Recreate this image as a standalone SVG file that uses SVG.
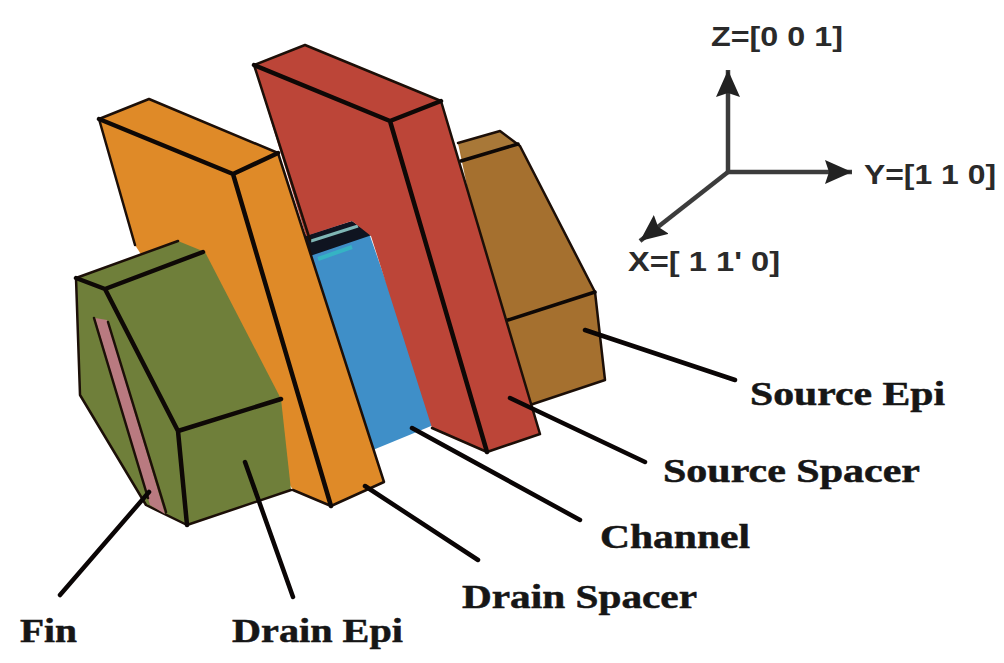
<svg xmlns="http://www.w3.org/2000/svg" width="1004" height="663" viewBox="0 0 1004 663">
<style>
.b{fill:none;stroke:#0e0806;stroke-width:4.5;stroke-linecap:round;stroke-linejoin:round}
.n{fill:none;stroke:#1c0f08;stroke-width:2.5;stroke-linecap:round;stroke-linejoin:round}
.l{stroke:#0a0505;stroke-width:4.5;stroke-linecap:round;fill:none}
.t{font-family:"Liberation Serif",serif;font-weight:700;font-size:33px;fill:#161616;stroke:#161616;stroke-width:.5}
.a{font-family:"Liberation Sans",sans-serif;font-weight:700;font-size:27px;fill:#2a2a2a}
.x{stroke:#3c3c3c;stroke-width:4.5;fill:none}
</style>
<defs><marker id="h" markerUnits="userSpaceOnUse" markerWidth="30" markerHeight="26" refX="27" refY="12" orient="auto"><path d="M0 0L27 12L0 24L4 12Z" fill="#222"/></marker></defs>
<rect width="1004" height="663" fill="#fff"/>
<g id="source-epi">
<polygon points="458,143 500,131 520,146 595,292 605,380 530,405 470,200" fill="#a5702f"/>
<polygon points="458,143 500,131 520,146 464,161" fill="#a87838"/>
<path class="n" d="M458,143L500,131L520,146L595,292L605,380L530,405"/>
<path d="M461,161L518,144M508,320L595,292" class="b" style="stroke-width:3.5"/>
</g>
<g id="channel">
<polygon points="298,236 350,222 370,236 436,424 368,452" fill="#3f8fc8"/>
<polygon points="305,236 352,221 372,235 310,256" fill="#0f1420"/>
<path d="M311,241L358,226" stroke="#7fb6b5" stroke-width="3" fill="none"/>
<path d="M318,259L352,247" stroke="#35b3c4" stroke-width="4" fill="none"/>
</g>
<g id="source-spacer">
<polygon points="254,65 305,45 441,101 540,434 487,452 432,428 371,236 352,221 306,236" fill="#bc4538"/>
<path class="n" d="M254,65L305,45L441,101L540,434L487,452L432,428M254,65L310,240"/>
<path d="M254,65L390,121L487,452M390,121L441,101" class="b"/>
</g>
<g id="drain-spacer">
<polygon points="99,119 149,99 278,153 384,482 331,506 293,490 135,245" fill="#df8a28"/>
<path class="n" d="M99,119L149,99L278,153L384,482L331,506L293,490M99,119L135,245"/>
<path d="M99,119L233,174L331,506M233,174L278,153" class="b"/>
</g>
<g id="drain-epi">
<polygon points="76,278 178,241 205,252 281,399 291,490 187,525 146,505 80,395" fill="#6f7f3a"/>
<path class="n" d="M76,278L178,241M291,490L187,525L146,505L80,395L76,278"/>
<path d="M76,278L105,289L178,431L187,525M105,289L203,252M178,431L281,399" class="b"/>
</g>
<g id="fin">
<polygon points="95,318 107,320 165,514 150,505" fill="#b97a80"/>
<path d="M94,318L148,498M108,322L166,512" class="n"/>
</g>
<g id="connectors">
<path class="l" d="M60,595L149,492M245,462L293,597M365,486L478,560M412,428L580,520M510,398L645,462M585,330L735,380"/>
<g id="axes">
<path class="x" d="M728,172V70" marker-end="url(#h)"/>
<path class="x" d="M728,172H852" marker-end="url(#h)"/>
<path class="x" d="M728,172L640,241" marker-end="url(#h)"/>
</g>
</g>
<g id="labels">
<text class="a" x="711" y="46" textLength="132" lengthAdjust="spacingAndGlyphs">Z=[0 0 1]</text>
<text class="a" x="864" y="184" textLength="132" lengthAdjust="spacingAndGlyphs">Y=[1 1 0]</text>
<text class="a" x="628" y="271" textLength="152" lengthAdjust="spacingAndGlyphs">X=[ 1 1' 0]</text>
<text class="t" x="750" y="405" textLength="195" lengthAdjust="spacingAndGlyphs">Source Epi</text>
<text class="t" x="663" y="482" textLength="257" lengthAdjust="spacingAndGlyphs">Source Spacer</text>
<text class="t" x="600" y="548" textLength="150" lengthAdjust="spacingAndGlyphs">Channel</text>
<text class="t" x="462" y="608" textLength="235" lengthAdjust="spacingAndGlyphs">Drain Spacer</text>
<text class="t" x="232" y="642" textLength="171" lengthAdjust="spacingAndGlyphs">Drain Epi</text>
<text class="t" x="20" y="642" textLength="57" lengthAdjust="spacingAndGlyphs">Fin</text>
</g>
</svg>
